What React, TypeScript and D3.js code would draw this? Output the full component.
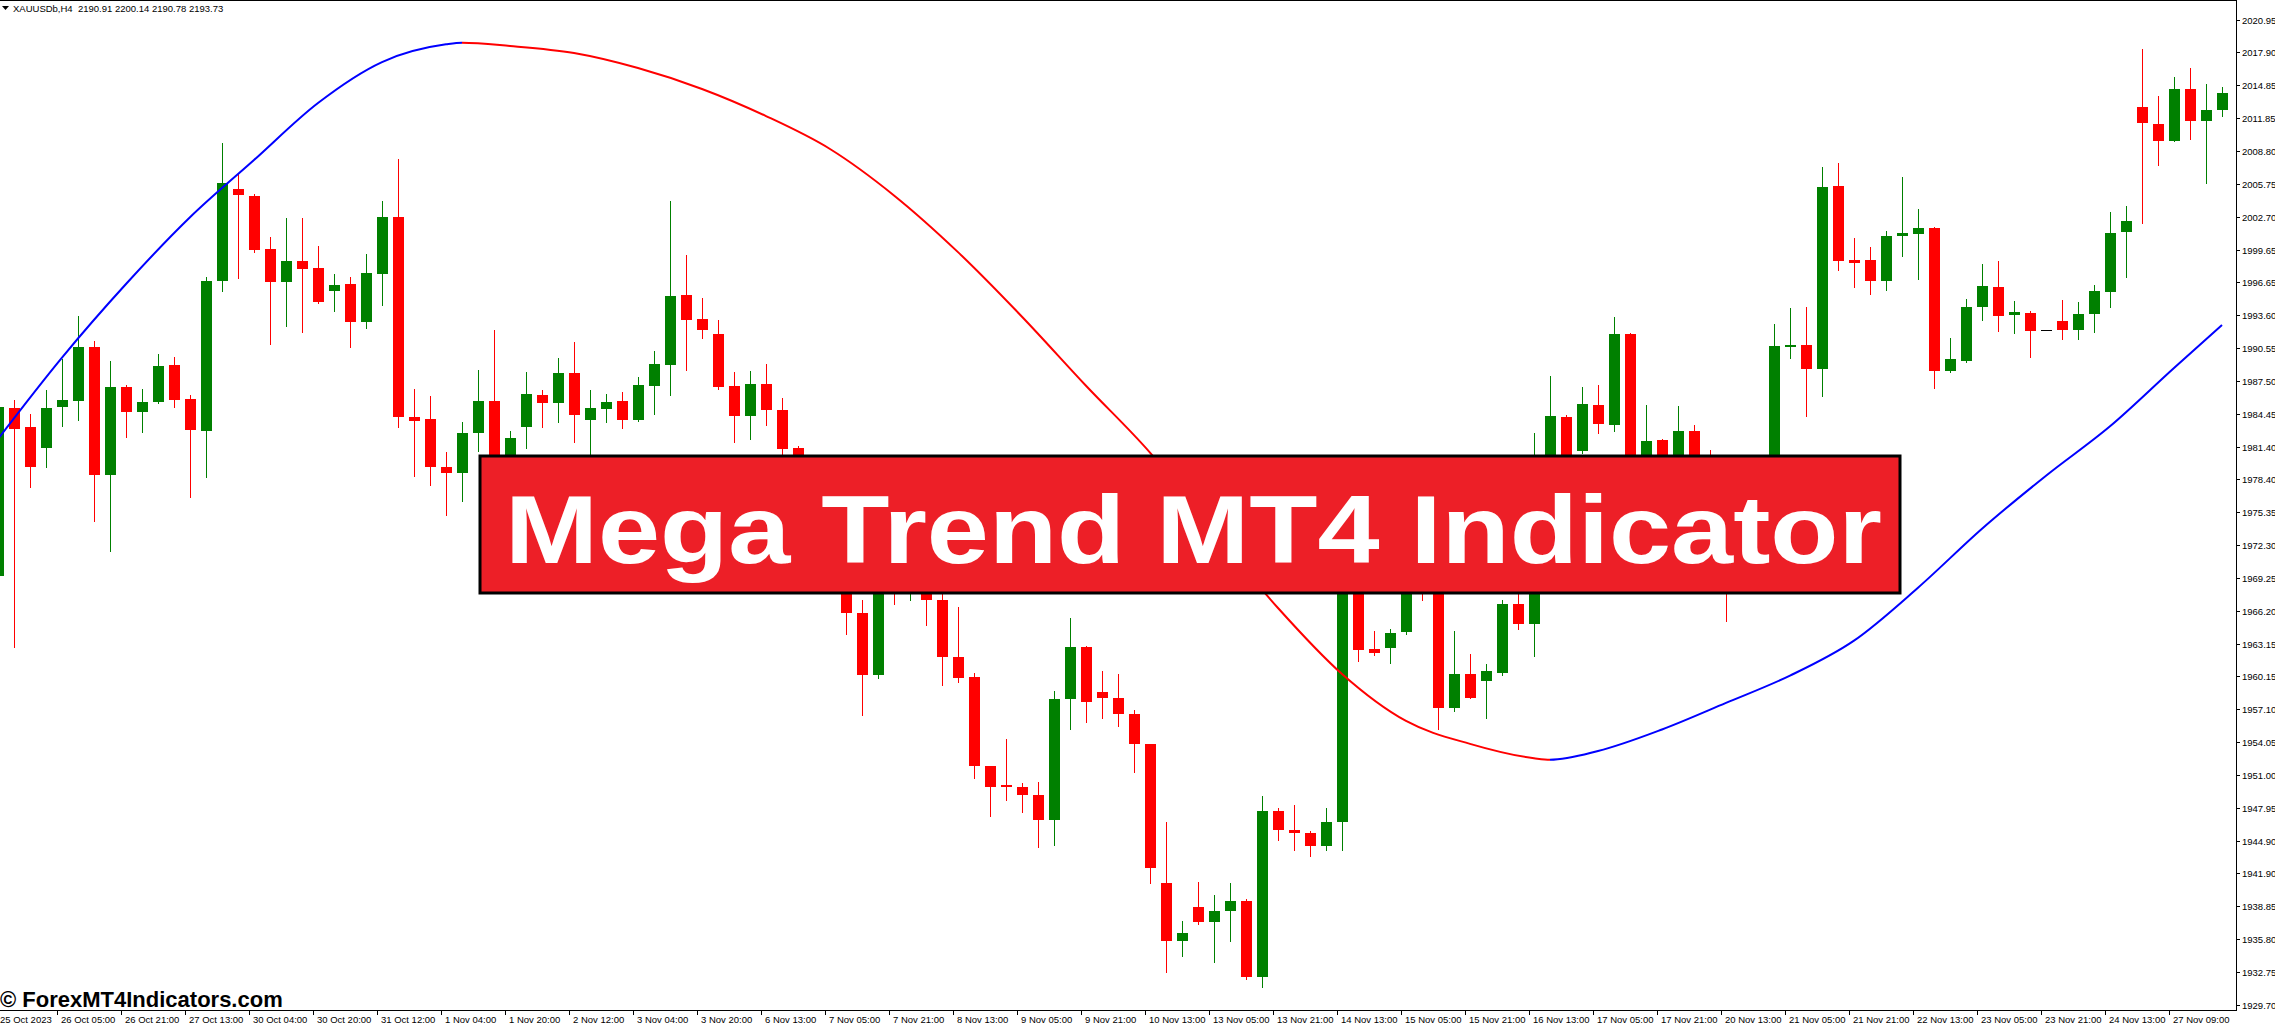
import { useEffect, useRef } from "react";
import * as d3 from "d3";

// OHLC of the 140 H4 candles (left to right)
const opens = [
  1969.4, 1985.0, 1983.18, 1981.23, 1985.03, 1985.66, 1990.65, 1978.82, 1986.92, 1984.57,
  1985.5, 1988.97, 1985.83, 1982.88, 1996.77, 2005.27, 2004.6, 1999.71, 1996.6, 1998.59,
  1997.96, 1995.84, 1996.47, 1992.97, 1997.4, 2002.69, 1984.17, 1983.97, 1979.54, 1978.92,
  1982.62, 1985.63, 1978.8, 1983.25, 1986.19, 1985.4, 1988.22, 1983.9, 1984.93, 1985.65,
  1983.85, 1987.04, 1988.99, 1995.46, 1993.2, 1991.82, 1987.04, 1984.21, 1987.24, 1984.78,
  1981.29, 1978.0, 1974.5, 1971.0, 1965.98, 1960.22, 1970.0, 1968.5, 1970.5, 1967.16,
  1961.92, 1960.07, 1951.8, 1950.05, 1949.85, 1949.13, 1946.82, 1958.02, 1962.84, 1958.68,
  1958.12, 1956.68, 1953.85, 1941.01, 1935.67, 1938.8, 1937.36, 1938.44, 1939.31, 1932.28,
  1947.69, 1945.89, 1945.58, 1944.4, 1946.61, 1972.0, 1962.69, 1962.74, 1964.23, 1969.5,
  1969.0, 1957.24, 1960.32, 1959.66, 1960.48, 1966.85, 1964.95, 1975.0, 1984.11, 1981.03,
  1985.24, 1983.44, 1991.82, 1978.0, 1982.0, 1978.0, 1982.84, 1978.0, 1974.0, 1970.0,
  1972.0, 1975.0, 1990.66, 1990.81, 1988.55, 2005.55, 1998.67, 1998.71, 1996.71, 2000.86,
  2001.13, 2001.69, 1988.36, 1989.34, 1994.29, 1996.14, 1993.57, 1993.8, 1992.17, 1993.04,
  1992.21, 1993.65, 1995.76, 2001.24, 2012.84, 2011.29, 2009.74, 2014.5, 2011.52, 2012.54,
];
const highs = [
  1985.6, 1985.69, 1984.44, 1986.65, 1989.56, 1993.53, 1991.21, 1989.33, 1987.15, 1986.75,
  1990.0, 1989.69, 1986.19, 1997.07, 2009.53, 2006.75, 2004.77, 2000.8, 2002.59, 2002.59,
  1999.98, 1997.4, 1997.1, 1999.25, 2004.14, 2008.04, 1986.75, 1986.09, 1980.9, 1983.68,
  1988.5, 1992.21, 1982.85, 1988.31, 1986.65, 1989.63, 1991.05, 1986.68, 1986.27, 1986.47,
  1987.86, 1990.28, 2004.14, 1999.16, 1995.15, 1993.15, 1988.32, 1988.43, 1989.04, 1985.91,
  1981.49, 1979.0, 1975.5, 1972.0, 1967.16, 1971.5, 1972.0, 1972.0, 1971.5, 1968.0,
  1966.54, 1960.48, 1951.85, 1954.37, 1950.26, 1950.36, 1958.79, 1965.51, 1962.9, 1960.63,
  1960.38, 1956.99, 1953.9, 1946.66, 1937.47, 1941.11, 1939.88, 1941.01, 1939.47, 1949.08,
  1947.95, 1948.2, 1945.84, 1947.95, 1976.0, 1974.0, 1964.33, 1964.49, 1971.0, 1971.0,
  1970.5, 1964.33, 1962.17, 1961.3, 1967.16, 1968.5, 1982.62, 1987.96, 1984.37, 1986.94,
  1987.09, 1993.41, 1991.9, 1985.24, 1982.1, 1985.19, 1983.41, 1981.07, 1975.0, 1973.0,
  1976.0, 1992.78, 1994.25, 1994.33, 2007.29, 2007.66, 2000.71, 1999.88, 2001.39, 2006.38,
  2003.39, 2001.75, 1991.46, 1995.08, 1998.33, 1998.6, 1994.93, 1993.99, 1992.17, 1995.01,
  1994.82, 1996.33, 2003.13, 2003.7, 2018.2, 2013.86, 2015.64, 2016.47, 2014.99, 2014.69,
];
const lows = [
  1969.0, 1962.85, 1977.66, 1979.54, 1983.35, 1983.91, 1974.55, 1971.71, 1982.29, 1982.78,
  1985.4, 1985.1, 1976.74, 1978.59, 1995.84, 1996.97, 1999.45, 1990.95, 1992.6, 1991.97,
  1994.7, 1993.99, 1990.59, 1992.34, 1994.52, 1983.18, 1978.72, 1977.89, 1975.11, 1976.34,
  1981.03, 1976.0, 1977.5, 1981.26, 1983.25, 1983.68, 1981.85, 1980.41, 1983.65, 1983.13,
  1983.75, 1984.42, 1986.17, 1988.53, 1991.46, 1986.73, 1981.85, 1982.11, 1983.39, 1980.41,
  1976.5, 1973.5, 1970.0, 1964.08, 1956.53, 1960.0, 1966.8, 1967.16, 1964.85, 1959.35,
  1959.61, 1950.72, 1947.18, 1948.67, 1947.53, 1944.3, 1944.56, 1955.24, 1955.91, 1956.27,
  1955.5, 1951.28, 1940.96, 1932.74, 1934.23, 1937.21, 1933.72, 1935.67, 1932.12, 1931.35,
  1944.97, 1944.09, 1943.53, 1944.09, 1944.09, 1961.51, 1962.12, 1961.4, 1964.08, 1967.16,
  1955.24, 1956.88, 1958.1, 1956.32, 1960.22, 1964.49, 1962.02, 1974.0, 1977.5, 1980.82,
  1982.62, 1982.83, 1975.0, 1977.0, 1977.0, 1976.5, 1975.5, 1972.0, 1965.27, 1969.0,
  1971.0, 1974.0, 1989.57, 1984.2, 1986.09, 1997.8, 1996.22, 1995.5, 1995.88, 1999.09,
  1996.9, 1986.85, 1988.3, 1989.27, 1993.16, 1992.14, 1991.95, 1989.72, 1992.17, 1991.38,
  1991.38, 1992.02, 1994.37, 1997.12, 2002.11, 2007.51, 2009.67, 2009.85, 2005.77, 2012.05,
];
const closes = [
  1985.1, 1983.02, 1979.54, 1985.0, 1985.73, 1990.65, 1978.82, 1986.92, 1984.64, 1985.53,
  1988.87, 1985.76, 1982.98, 1996.74, 2005.83, 2004.74, 1999.65, 1996.6, 1998.59, 1997.89,
  1994.75, 1996.37, 1992.97, 1997.5, 2002.69, 1984.11, 1983.81, 1979.48, 1978.92, 1982.69,
  1985.63, 1978.0, 1982.22, 1986.29, 1985.4, 1988.24, 1984.32, 1984.98, 1985.55, 1983.85,
  1987.09, 1989.04, 1995.31, 1993.1, 1992.18, 1986.94, 1984.21, 1987.24, 1984.78, 1981.18,
  1978.0, 1974.5, 1971.0, 1965.98, 1960.22, 1970.0, 1969.0, 1970.5, 1967.16, 1961.92,
  1960.02, 1951.8, 1949.85, 1949.85, 1949.13, 1946.82, 1958.02, 1962.84, 1957.71, 1958.12,
  1956.68, 1953.85, 1942.35, 1935.67, 1936.39, 1937.36, 1938.39, 1939.31, 1932.28, 1947.64,
  1945.89, 1945.58, 1944.4, 1946.66, 1974.0, 1962.53, 1962.28, 1964.18, 1969.5, 1968.5,
  1957.24, 1960.32, 1958.17, 1960.63, 1966.85, 1964.95, 1975.0, 1984.21, 1979.0, 1985.34,
  1983.54, 1991.82, 1976.5, 1981.9, 1978.5, 1982.84, 1977.5, 1974.0, 1970.0, 1972.0,
  1975.0, 1990.74, 1990.78, 1988.62, 2005.43, 1998.63, 1998.37, 1996.71, 2000.9, 2001.2,
  2001.69, 1988.36, 1989.53, 1994.29, 1996.25, 1993.53, 1993.87, 1992.14, 1992.17, 1992.21,
  1993.69, 1995.84, 2001.2, 2002.3, 2011.33, 2009.74, 2014.5, 2011.52, 2012.58, 2014.16,
];

// Mega Trend line, read at these candle indexes
const trendIdx = [
  0, 4, 8, 12, 16, 20, 24, 28, 29, 32, 36, 40, 44, 48, 52, 56, 60, 64, 68, 72, 76, 80, 84, 88,
  92, 96, 97, 100, 104, 108, 112, 116, 120, 124, 128, 132, 136, 139,
];
const trendVal = [
  1982.11, 1989.65, 1996.46, 2002.64, 2007.94, 2013.22, 2017.01, 2018.65, 2018.8, 2018.5,
  2017.85, 2016.46, 2014.52, 2012.01, 2008.96, 2004.66, 1999.41, 1993.43, 1987.04, 1980.85,
  1973.5, 1966.46, 1960.35, 1956.0, 1953.88, 1952.55, 1952.41, 1953.22, 1955.21, 1957.67,
  1960.2, 1963.44, 1968.34, 1973.8, 1978.71, 1983.29, 1988.69, 1992.66,
];

const priceTicks = [
  "2020.95", "2017.90", "2014.85", "2011.85", "2008.80", "2005.75", "2002.70", "1999.65",
  "1996.65", "1993.60", "1990.55", "1987.50", "1984.45", "1981.40", "1978.40", "1975.35",
  "1972.30", "1969.25", "1966.20", "1963.15", "1960.15", "1957.10", "1954.05", "1951.00",
  "1947.95", "1944.90", "1941.90", "1938.85", "1935.80", "1932.75", "1929.70",
];

// one label every 4 candles
const dateLabels = [
  "25 Oct 2023", "26 Oct 05:00", "26 Oct 21:00", "27 Oct 13:00", "30 Oct 04:00", "30 Oct 20:00",
  "31 Oct 12:00", "1 Nov 04:00", "1 Nov 20:00", "2 Nov 12:00", "3 Nov 04:00", "3 Nov 20:00",
  "6 Nov 13:00", "7 Nov 05:00", "7 Nov 21:00", "8 Nov 13:00", "9 Nov 05:00", "9 Nov 21:00",
  "10 Nov 13:00", "13 Nov 05:00", "13 Nov 21:00", "14 Nov 13:00", "15 Nov 05:00", "15 Nov 21:00",
  "16 Nov 13:00", "17 Nov 05:00", "17 Nov 21:00", "20 Nov 13:00", "21 Nov 05:00", "21 Nov 21:00",
  "22 Nov 13:00", "23 Nov 05:00", "23 Nov 21:00", "24 Nov 13:00", "27 Nov 09:00",
];

const W = 2275;
const H = 1026;
const FONT = "'Liberation Sans', Arial, sans-serif";

const Chart = () => {
  const ref = useRef<SVGSVGElement | null>(null);

  useEffect(() => {
    drawChart();
  }, []);

  const drawChart = () => {
    const frameRight = 2236;
    const frameBottom = 1010;

    const svg = d3.select(ref.current);
    svg.selectAll("*").remove();

    const xScale = d3.scaleLinear().domain([0, 139]).range([-2, 2222]);
    const yScale = d3.scaleLinear().domain([1929.7, 2020.95]).range([1005, 19.5]);
    const py = (v: number) => Math.round(yScale(v));

    svg.append("rect").attr("width", W).attr("height", H).attr("fill", "#ffffff");

    const defs = svg.append("defs");
    defs
      .append("clipPath")
      .attr("id", "plotClip")
      .append("rect")
      .attr("x", 0)
      .attr("y", 0)
      .attr("width", frameRight)
      .attr("height", frameBottom);

    const body = svg.append("g").attr("clip-path", "url(#plotClip)").attr("shape-rendering", "crispEdges");

    const candles = d3.range(opens.length).map((i) => ({
      i,
      o: opens[i],
      h: highs[i],
      l: lows[i],
      c: closes[i],
    }));
    const col = (d: any) => (d.c > d.o ? "#008000" : d.c < d.o ? "#ff0000" : "#000000");

    // wicks
    body
      .selectAll("line.wick")
      .data(candles)
      .join("line")
      .attr("class", "wick")
      .attr("x1", (d) => Math.round(xScale(d.i)) + 0.5)
      .attr("x2", (d) => Math.round(xScale(d.i)) + 0.5)
      .attr("y1", (d) => py(d.h))
      .attr("y2", (d) => py(d.l) + 1)
      .attr("stroke", col)
      .attr("stroke-width", 1);

    // bodies
    body
      .selectAll("rect.body")
      .data(candles)
      .join("rect")
      .attr("class", "body")
      .attr("x", (d) => Math.round(xScale(d.i)) - 5)
      .attr("width", 11)
      .attr("y", (d) => py(Math.max(d.o, d.c)))
      .attr("height", (d) => Math.max(1, py(Math.min(d.o, d.c)) - py(Math.max(d.o, d.c))))
      .attr("fill", col);

    // Mega Trend line: one smooth curve, blue where rising, red where falling
    const pts = trendIdx.map((d, k) => ({ i: d, v: trendVal[k] }));
    const runs: { up: boolean; from: number; to: number }[] = [];
    for (let k = 1; k < pts.length; k++) {
      const up = pts[k].v >= pts[k - 1].v;
      const last = runs[runs.length - 1];
      if (last && last.up === up) last.to = pts[k].i;
      else runs.push({ up, from: pts[k - 1].i, to: pts[k].i });
    }
    const trendLine = d3
      .line<any>()
      .x((d) => xScale(d.i))
      .y((d) => yScale(d.v))
      .curve(d3.curveMonotoneX);
    const d = trendLine(pts);
    const lines = svg.append("g").attr("clip-path", "url(#plotClip)");
    runs.forEach((r, k) => {
      const x0 = k === 0 ? -10 : xScale(r.from);
      const x1 = k === runs.length - 1 ? W : xScale(r.to);
      defs
        .append("clipPath")
        .attr("id", `run${k}`)
        .append("rect")
        .attr("x", x0)
        .attr("y", 0)
        .attr("width", x1 - x0)
        .attr("height", H);
      lines
        .append("path")
        .attr("d", d)
        .attr("clip-path", `url(#run${k})`)
        .attr("fill", "none")
        .attr("stroke", r.up ? "#0000ff" : "#ff0000")
        .attr("stroke-width", 2);
    });

    // frame
    svg
      .append("path")
      .attr("d", `M0,0.5H${frameRight + 0.5}V${frameBottom + 0.5}H0`)
      .attr("fill", "none")
      .attr("stroke", "#000000")
      .attr("stroke-width", 1)
      .attr("shape-rendering", "crispEdges");

    // price axis
    const pAxis = svg.append("g").attr("font-family", FONT).attr("font-size", "9.5px").attr("fill", "#000000");
    priceTicks.forEach((t) => {
      const y = py(+t);
      pAxis
        .append("line")
        .attr("x1", frameRight)
        .attr("x2", frameRight + 4)
        .attr("y1", y + 0.5)
        .attr("y2", y + 0.5)
        .attr("stroke", "#000000")
        .attr("shape-rendering", "crispEdges");
      pAxis.append("text").attr("x", frameRight + 6).attr("y", y + 3.5).text(t);
    });

    // time axis
    const tAxis = svg.append("g").attr("font-family", FONT).attr("font-size", "9.5px").attr("fill", "#000000");
    dateLabels.forEach((t, k) => {
      const x = Math.round(xScale(k * 4));
      tAxis
        .append("line")
        .attr("x1", x - 4.5)
        .attr("x2", x - 4.5)
        .attr("y1", frameBottom)
        .attr("y2", frameBottom + 5)
        .attr("stroke", "#000000")
        .attr("shape-rendering", "crispEdges");
      tAxis
        .append("text")
        .attr("x", Math.max(0, x - 1))
        .attr("y", frameBottom + 13)
        .text(t);
    });

    // header
    svg.append("path").attr("d", "M2,6H9L5.5,10Z").attr("fill", "#000000");
    svg
      .append("text")
      .attr("x", 13)
      .attr("y", 12)
      .attr("font-family", FONT)
      .attr("font-size", "9.5px")
      .attr("fill", "#000000")
      .attr("xml:space", "preserve")
      .text("XAUUSDb,H4  2190.91 2200.14 2190.78 2193.73");

    // banner
    const banner = svg.append("g");
    banner
      .append("rect")
      .attr("x", 480)
      .attr("y", 456)
      .attr("width", 1420)
      .attr("height", 137)
      .attr("fill", "#ed1f27")
      .attr("stroke", "#000000")
      .attr("stroke-width", 3);
    banner
      .append("text")
      .attr("x", 505)
      .attr("y", 563)
      .attr("font-family", FONT)
      .attr("font-weight", "bold")
      .attr("font-size", "96px")
      .attr("fill", "#ffffff")
      .attr("textLength", 1377)
      .attr("lengthAdjust", "spacingAndGlyphs")
      .text("Mega Trend MT4 Indicator");

    // watermark
    svg
      .append("text")
      .attr("x", 0)
      .attr("y", 1007)
      .attr("font-family", FONT)
      .attr("font-weight", "bold")
      .attr("font-size", "22px")
      .attr("fill", "#000000")
      .text("© ForexMT4Indicators.com");
  };

  return <svg ref={ref} width={W} height={H} style={{ display: "block" }} />;
};

const App = () => (
  <div style={{ position: "fixed", left: 0, top: 0, width: W, height: H, background: "#ffffff" }}>
    <Chart />
  </div>
);

export default App;
